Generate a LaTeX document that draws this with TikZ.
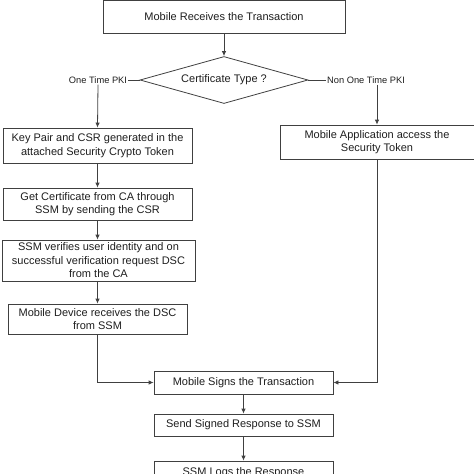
\documentclass[tikz,border=0pt]{standalone}
\usepackage{fontspec}
\setmainfont{Liberation Sans}
\usetikzlibrary{shapes.geometric, arrows.meta, positioning}
\definecolor{lineclr}{RGB}{64, 64, 64}
\definecolor{textclr}{RGB}{30, 30, 30}

\begin{document}
\begin{tikzpicture}[x=1pt, y=-1pt,
    stepbox/.style={draw=lineclr, line width=0.8pt, rectangle, align=center, inner sep=1pt, text=textclr, font=\fontsize{11}{13.5}\selectfont},
    decision/.style={draw=lineclr, line width=0.8pt, diamond, aspect=3.5, inner sep=0pt, text=textclr, font=\fontsize{11}{13.5}\selectfont},
    branch/.style={inner sep=1pt, text=textclr, font=\fontsize{9.3}{11}\selectfont},
    flow/.style={draw=lineclr, line width=0.8pt, -{Latex[length=5pt, width=4.5pt]}},
    link/.style={draw=lineclr, line width=0.8pt}]
\useasboundingbox (0,0) rectangle (474,474);

% Start and decision
\node[stepbox, minimum width=242pt, minimum height=33pt] (recv) at (224,16.5) {Mobile Receives the Transaction};
\node[decision, minimum width=168pt, minimum height=47pt] (cert) at (224,80) {Certificate Type ?};
\draw[flow] (recv.south) -- (cert.north);

% Branch labels
\node[branch] (otpki) at (98,80) {One Time PKI};
\node[branch] (nonotpki) at (366,80) {Non One Time PKI};
\draw[link] (cert.west) -- (otpki.east);
\draw[link] (cert.east) -- (nonotpki.west);

% One time PKI side
\node[stepbox, minimum width=189pt, minimum height=35pt] (keypair) at (97.5,145.5) {Key Pair and CSR generated in the\\attached Security Crypto Token};
\node[stepbox, minimum width=189pt, minimum height=32pt] (getcert) at (97.5,204) {Get Certificate from CA through\\SSM by sending the CSR};
\node[stepbox, minimum width=193pt, minimum height=41pt] (verify) at (98.5,260.5) {SSM verifies user identity and on\\successful verification request DSC\\from the CA};
\node[stepbox, minimum width=179pt, minimum height=30pt] (dsc) at (97.5,319) {Mobile Device receives the DSC\\from SSM};

\draw[flow] (otpki.south) -- (keypair.north);
\draw[flow] (keypair.south) -- (getcert.north);
\draw[flow] (getcert.south) -- (verify.north -| getcert.south);
\draw[flow] (verify.south -| dsc.north) -- (dsc.north);

% Non one time PKI side
\node[stepbox, minimum width=194pt, minimum height=34pt] (mobapp) at (377,142) {Mobile Application access the\\Security Token};
\draw[flow] (nonotpki.south -| mobapp.north) -- (mobapp.north);

% Common steps
\node[stepbox, minimum width=179pt, minimum height=23pt] (signs) at (243.5,382.5) {Mobile Signs the Transaction};
\node[stepbox, minimum width=179pt, minimum height=22pt] (send) at (243.5,425) {Send Signed Response to SSM};
\node[stepbox, minimum width=179pt, minimum height=24pt] (logs) at (243.5,473) {SSM Logs the Response};

\draw[flow] (dsc.south) |- (signs.west);
\draw[flow] (mobapp.south) |- (signs.east);
\draw[flow] (signs.south) -- (send.north);
\draw[flow] (send.south) -- (logs.north);
\end{tikzpicture}
\end{document}
